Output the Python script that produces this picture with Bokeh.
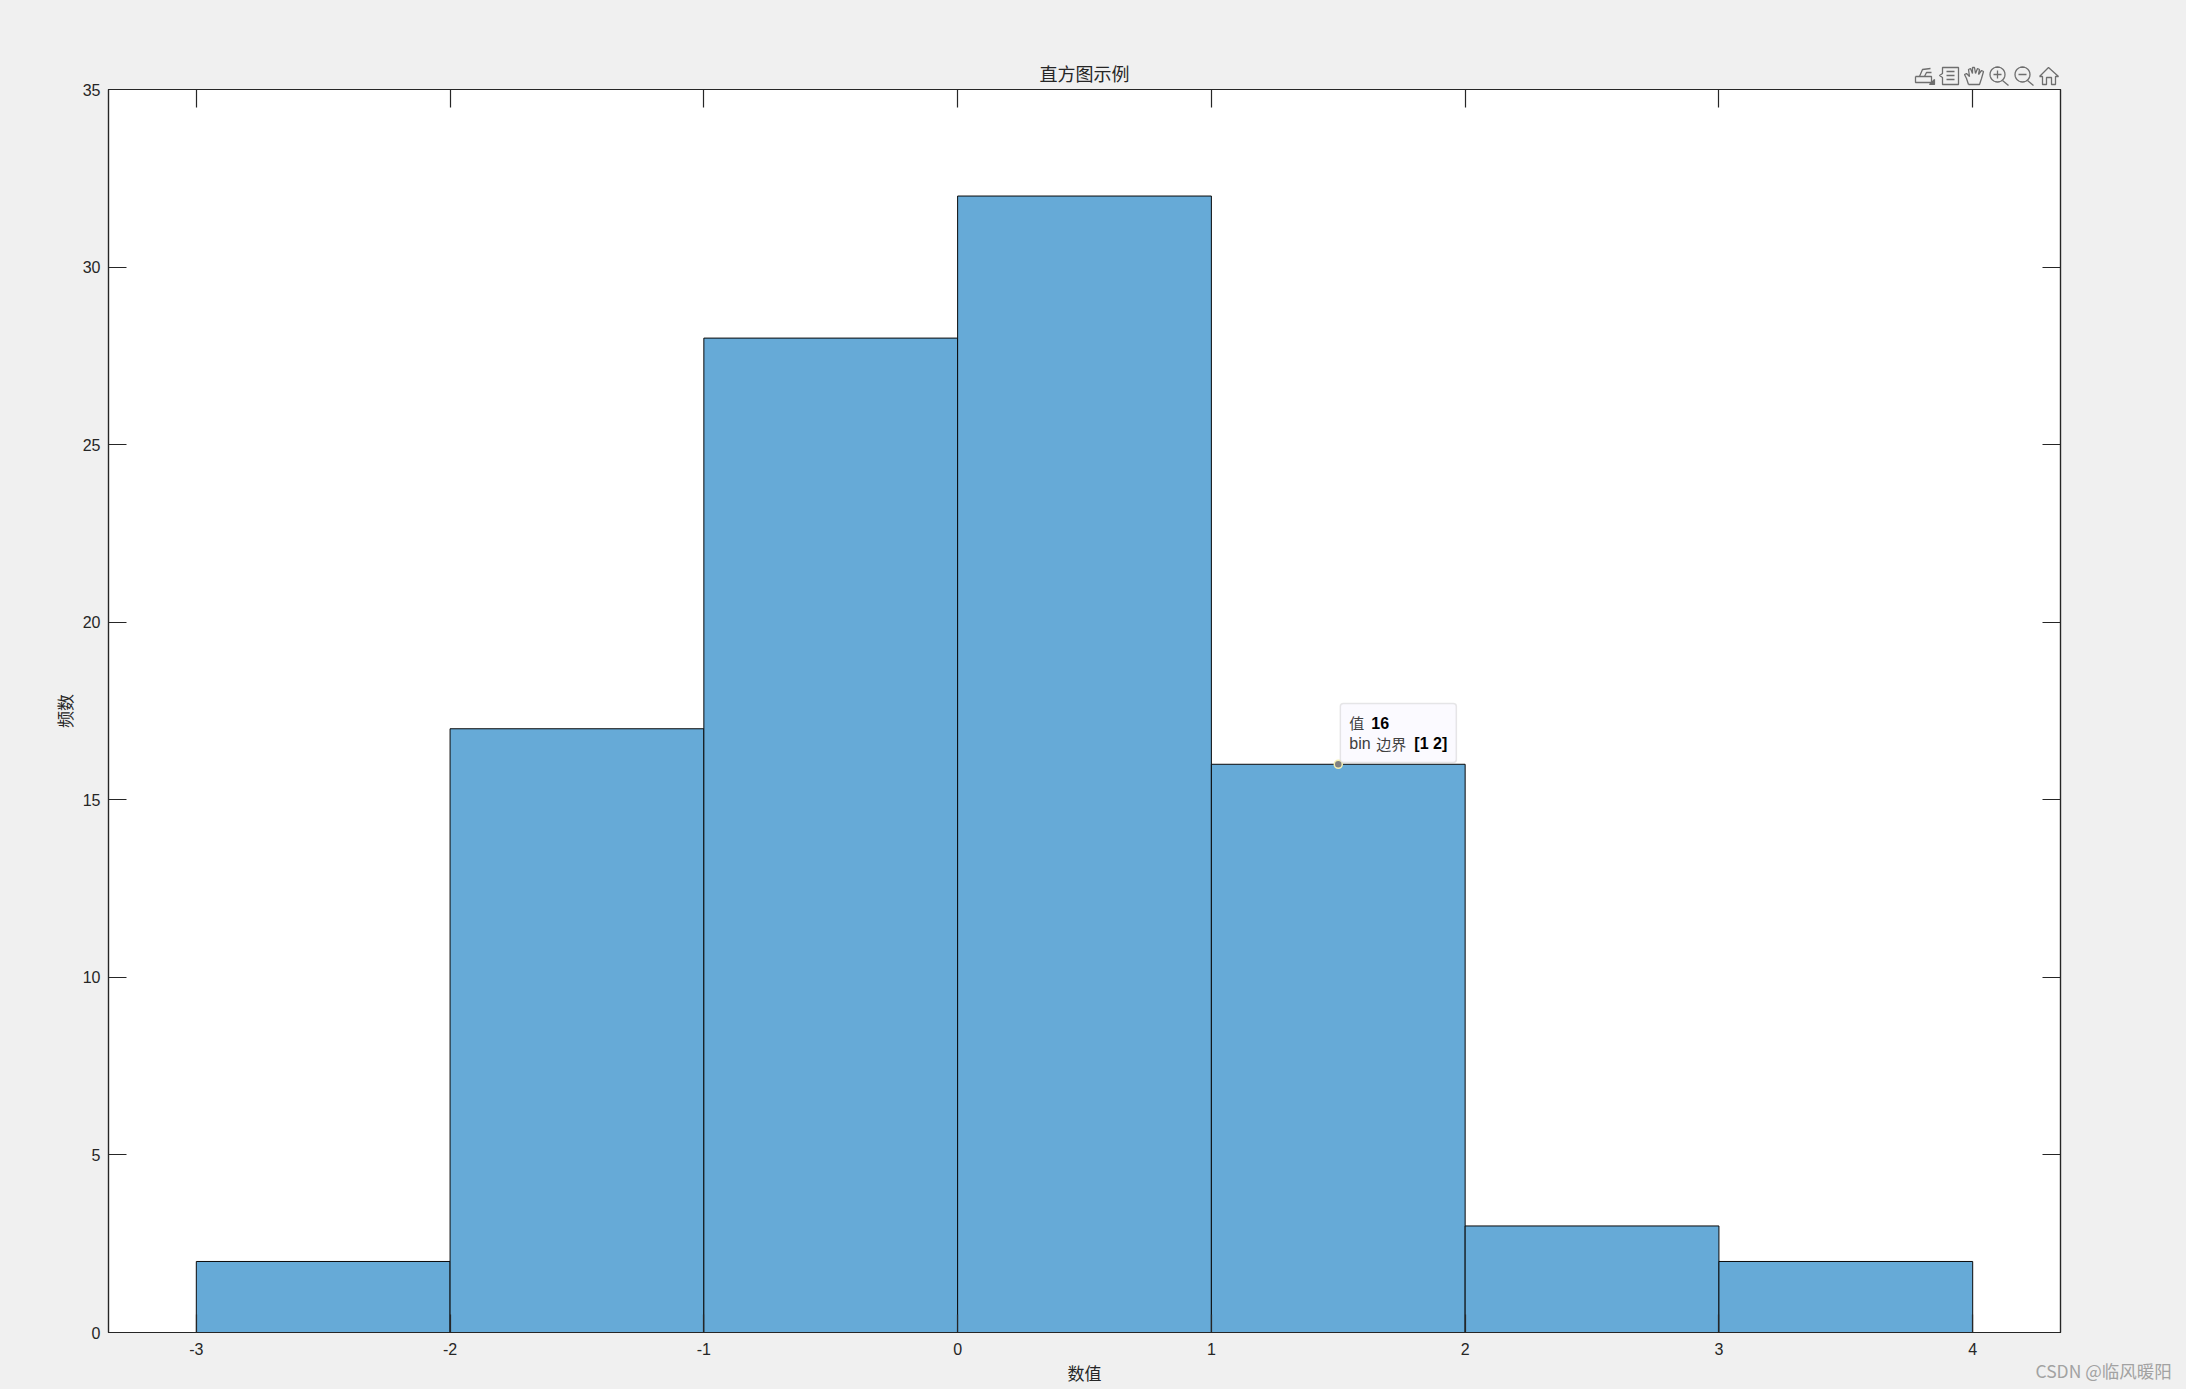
import math
from bokeh.plotting import figure
from bokeh.layouts import column
from bokeh.embed import file_html
from bokeh.resources import INLINE
from bokeh.core.properties import value
from bokeh.models import Range1d, FixedTicker, LinearAxis, Label, BoxAnnotation

# data
bin_edges = [-3, -2, -1, 0, 1, 2, 3, 4]
counts = [2, 17, 28, 32, 16, 3, 2]
x_ticks = [-3, -2, -1, 0, 1, 2, 3, 4]
y_ticks = [0, 5, 10, 15, 20, 25, 30, 35]
title_text = "直方图示例"
x_label = "数值"
y_label = "频数"
watermark = "CSDN @临风暖阳"
tip_value = 16
tip_x, tip_y = 1.5, 16

BG = "#f0f0f0"
INK = "#262626"
BAR = "#66aad7"
CJK = "Noto Sans CJK SC"
W, H = 2186, 1389
FL, FT, FR, FB = 108.5, 89, 2060, 1332
XMIN, XMAX = -3.346, 4.346
YMIN, YMAX = 0, 35

p = figure(width=W, height=H, output_backend="svg", toolbar_location=None,
           x_range=Range1d(XMIN, XMAX), y_range=Range1d(YMIN, YMAX),
           background_fill_color="white", border_fill_color=BG,
           min_border_left=round(FL), min_border_right=round(W - FR),
           min_border_top=round(FT), min_border_bottom=round(H - FB),
           title=title_text, x_axis_label=x_label, y_axis_label=y_label,
           frame_align=False)
p.grid.visible = False
p.outline_line_color = INK
p.outline_line_width = 1.2

p.title.align = "center"
p.title.text_font = CJK
p.title.text_font_size = "18px"
p.title.text_font_style = "normal"
p.title.text_color = INK
p.title.standoff = 7

def style(ax, ticks):
    ax.ticker = FixedTicker(ticks=ticks)
    ax.major_tick_in = 18
    ax.major_tick_out = 0
    ax.minor_tick_line_color = None
    ax.major_tick_line_color = INK
    ax.axis_line_color = INK
    ax.axis_line_width = 1.2
    ax.major_tick_line_width = 1.2

for ax, t in ((p.xaxis[0], x_ticks), (p.yaxis[0], y_ticks)):
    style(ax, t)
    ax.major_label_overrides = {v: str(v) for v in t}
    ax.major_label_text_font = "Liberation Sans"
    ax.major_label_text_font_size = "16px"
    ax.major_label_text_color = INK
    ax.axis_label_text_font = CJK
    ax.axis_label_text_font_size = "17px"
    ax.axis_label_text_font_style = "normal"
    ax.axis_label_text_color = INK
p.xaxis[0].major_label_standoff = 10
p.xaxis[0].axis_label_standoff = 2
p.yaxis[0].major_label_standoff = 8
p.yaxis[0].axis_label_standoff = 3

top_ax = LinearAxis(major_label_overrides={v: "" for v in x_ticks}, major_label_standoff=0)
style(top_ax, x_ticks)
p.add_layout(top_ax, "above")
right_ax = LinearAxis(major_label_overrides={v: "" for v in y_ticks}, major_label_standoff=0)
style(right_ax, y_ticks)
p.add_layout(right_ax, "right")

p.quad(left=bin_edges[:-1], right=bin_edges[1:], bottom=0, top=counts,
       fill_color=BAR, line_color="#0a0a0a", line_width=1)

def dx(px):
    return XMIN + (px - FL) / (FR - FL) * (XMAX - XMIN)
def dy(py):
    return YMIN + (FB - py) / (FB - FT) * (YMAX - YMIN)

# data tip
p.add_layout(BoxAnnotation(left=dx(1340), right=dx(1456), top=dy(703), bottom=dy(762),
                           fill_color="#fbfaff", fill_alpha=1, line_color="#b0b0b0",
                           line_width=1.5, border_radius=3))
p.scatter([tip_x], [tip_y], size=8, fill_color="#808080", line_color="#f5f0b0", line_width=1.5)

def tip_text(px, py, s, font="Liberation Sans", style="normal", color="#404040", size="16px"):
    p.add_layout(Label(x=dx(px), y=dy(py), text=s, text_font=font, text_font_size=size,
                       text_font_style=style, text_color=color,
                       text_align="left", text_baseline="middle"))

tip_text(1349, 722, "值", CJK, size="15px")
tip_text(1371, 722, str(tip_value), style="bold", color="#000000")
tip_text(1349, 743, "bin")
tip_text(1376, 743, "边界", CJK, size="15px")
tip_text(1414, 743, "[1 2]", style="bold", color="#000000")

# transparent page-sized layer for what lies outside the axes: window toolbar icons and watermark
layer = figure(width=W, height=H, output_backend="svg", toolbar_location=None,
               x_range=Range1d(0, W), y_range=Range1d(H, 0),
               x_axis_location=None, y_axis_location=None,
               background_fill_color=None, border_fill_color=None, outline_line_color=None,
               min_border_left=0, min_border_right=0, min_border_top=0, min_border_bottom=0,
               frame_align=False,
               styles={"position": "absolute", "left": "0px", "top": "0px"})
layer.grid.visible = False

layer.text([2035], [1370], text=[watermark], text_font=value(CJK), text_font_size="17.5px",
           text_color="#a2a2a2", text_align="left", text_baseline="middle")

ICON = "#6e6e6e"
def poly(pts, fill=None):
    xs = [a for a, b in pts] + [pts[0][0]]
    ys = [b for a, b in pts] + [pts[0][1]]
    if fill:
        layer.patch(xs, ys, fill_color=fill, line_color=ICON, line_width=1.2)
    else:
        layer.line(xs, ys, line_color=ICON, line_width=1.3)
def line(*pts):
    layer.line([a for a, b in pts], [b for a, b in pts], line_color=ICON, line_width=1.3)
def circle(cx, cy, r):
    poly([(cx + r * math.cos(i * math.pi / 12), cy + r * math.sin(i * math.pi / 12)) for i in range(24)])

# brush
poly([(1915, 76), (1931, 76), (1931, 82), (1915, 82)])
line((1919, 76), (1922, 69), (1930, 68))
line((1924, 76), (1926, 72), (1931, 72))
poly([(1934, 84), (1929, 84), (1934, 79)], fill=ICON)
# data cursor sheet
line((1946, 67), (1958, 67), (1958, 84), (1946, 84), (1942, 84), (1942, 77), (1939, 75), (1942, 73), (1942, 67), (1946, 67))
line((1946, 71), (1954, 71)); line((1946, 75), (1954, 75)); line((1946, 79), (1954, 79))
# hand
line((1968, 84), (1966, 78), (1964, 74), (1966, 73), (1969, 76), (1968, 69), (1970, 68), (1972, 73),
     (1972, 67), (1974, 67), (1975, 73), (1977, 68), (1979, 69), (1978, 74), (1981, 70), (1983, 71),
     (1981, 78), (1979, 84), (1968, 84))
# zoom in
circle(1997, 74, 7.5); line((2002, 80), (2008, 85)); line((1993, 74), (2001, 74)); line((1997, 70), (1997, 78))
# zoom out
circle(2022, 74, 7.5); line((2027, 80), (2033, 85)); line((2018, 74), (2026, 74))
# home
line((2039, 76), (2048, 67), (2058, 76), (2055, 76), (2055, 84), (2051, 84), (2051, 77),
     (2046, 77), (2046, 84), (2042, 84), (2042, 76), (2039, 76))

html = file_html(column(p, layer, spacing=0), INLINE)
html = html.replace("<head>", "<head><style>html,body{background:%s;overflow:hidden}</style>" % BG, 1)
open("out.html", "w").write(html)
